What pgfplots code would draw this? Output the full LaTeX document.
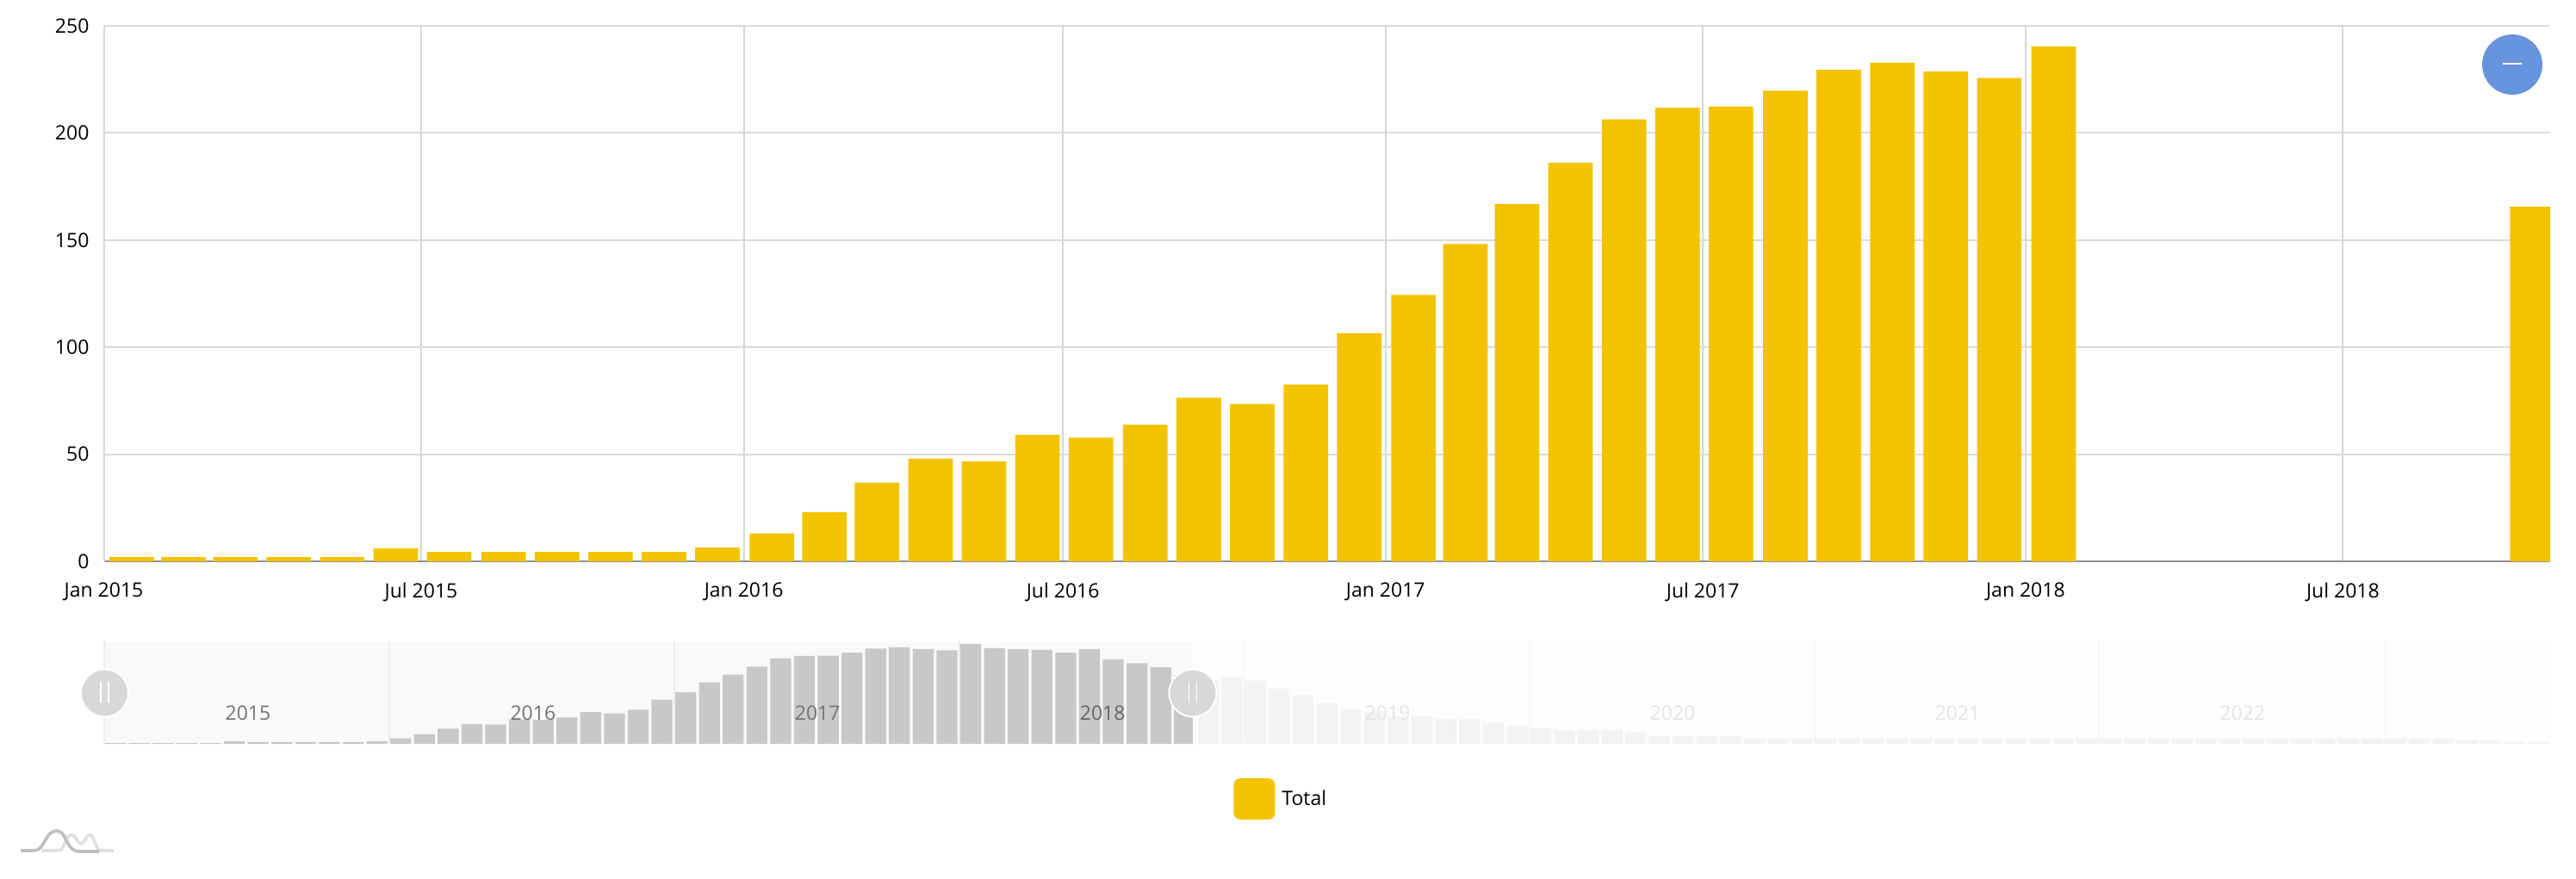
\documentclass[border=0pt]{standalone}
\usepackage{pgfplots}
\usepackage{pgfplotstable}
\pgfplotsset{compat=1.18}
\usepackage{fontspec}
\setmainfont{Open Sans}
\definecolor{baryellow}{HTML}{F3C300}
\definecolor{gridgray}{HTML}{DADADA}
\definecolor{vgridgray}{HTML}{D6D6D6}
\definecolor{navsel}{HTML}{C8C8C8}
\definecolor{navun}{HTML}{F3F3F3}
\definecolor{zoombtn}{HTML}{6794DC}
\definecolor{handle}{HTML}{D8D8D8}
\newcommand{\lab}{\fontsize{11.5}{14}\selectfont}
% main chart: day since 1 Jan 2015 (bar centre), value
\pgfplotstableread{
d v
16 2
45.5 2
75 2
105.5 2
136 2
166.5 6
197 4.4
228 4.4
258.5 4.4
289 4.4
319.5 4.4
350 6.5
381 13
411 23
441 36.7
471.5 48
502 46.7
532.5 59
563 57.7
594 63.8
624.5 76.4
655 73.4
685.5 82.5
716 106.5
747 124.4
776.5 148.2
806 166.8
836.5 186
867 206.3
897.5 211.8
928 212.4
959 219.7
989.5 229.5
1020 232.8
1050.5 228.6
1081 225.6
1112 240.4
1385 165.5
}\maintable
% navigator: month index (bar centre), value
\pgfplotstableread{
m v
0.5 2
1.5 2
2.5 2
3.5 2
4.5 2
5.5 6
6.5 4.4
7.5 4.4
8.5 4.4
9.5 4.4
10.5 4.4
11.5 6.5
12.5 13
13.5 23
14.5 36.7
15.5 48
16.5 46.7
17.5 59
18.5 57.7
19.5 63.8
20.5 76.4
21.5 73.4
22.5 82.5
23.5 106.5
24.5 124.4
25.5 148.2
26.5 166.8
27.5 186
28.5 206.3
29.5 211.8
30.5 212.4
31.5 219.7
32.5 229.5
33.5 232.8
34.5 228.6
35.5 225.6
36.5 240.4
37.5 230.6
38.5 228
39.5 226.5
40.5 220
41.5 228.6
42.5 203.6
43.5 194.6
44.5 185
45.5 165.5
}\navsel
\pgfplotstableread{
m v
46.5 151.7
47.5 161.4
48.5 152.4
49.5 133
50.5 117.7
51.5 98.3
52.5 83
53.5 77.6
54.5 66.5
55.5 66.5
56.5 61.6
57.5 59.6
58.5 49.9
59.5 43.6
60.5 38.8
61.5 33.2
62.5 33.2
63.5 33.2
64.5 27.7
65.5 18.7
66.5 18.7
67.5 18.7
68.5 18.7
69.5 12.5
70.5 12.5
71.5 12.5
72.5 12.5
73.5 12.5
74.5 12.5
75.5 12.5
76.5 12.5
77.5 12.5
78.5 12.5
79.5 12.5
80.5 12.5
81.5 12.5
82.5 12.5
83.5 12.5
84.5 12.5
85.5 12.5
86.5 12.5
87.5 12.5
88.5 12.5
89.5 12.5
90.5 12.5
91.5 12.5
92.5 12.5
93.5 12.5
94.5 12.5
95.5 12.5
96.5 12.5
97.5 12.5
98.5 12.5
99.5 8.3
100.5 8.3
101.5 4.2
102.5 4.2
}\navunsel
\begin{document}
\begin{tikzpicture}
% canvas: 1 px of the reference = 0.5 pt, origin at top left
\path[use as bounding box] (0,0) rectangle (1495.5pt,-510.5pt);
% navigator background and year lines
\begin{scope}[x=0.5pt,y=-0.5pt]
\fill[white] (0,0) rectangle (2991,1021);
\fill[black!2.5] (120.5,746) rectangle (1385,864);
\fill[black!0.8] (1385,746) rectangle (2961,864);
\foreach \px in {120.5,452,783,1113.5}{\draw[line width=1pt,black!7] (\px,744) -- (\px,864);}
\foreach \px in {1444.5,1775.5,2107,2437,2769}{\draw[line width=1pt,black!3] (\px,744) -- (\px,864);}
\end{scope}
% main chart
\begin{axis}[
  at={(60.25pt,-326pt)},anchor=south west,
  scale only axis,width=1420.25pt,height=311pt,
  xmin=0,xmax=1395.2,ymin=0,ymax=250,
  ybar,bar width=25.4,
  axis x line=bottom,axis y line=left,
  x axis line style={-,draw=black!55,opacity=.7,line width=1pt},
  y axis line style={-,draw=gridgray,line width=1pt},
  xtick={0,181,365,547,731,912,1096,1277},
  xticklabels={Jan 2015,Jul 2015,Jan 2016,Jul 2016,Jan 2017,Jul 2017,Jan 2018,Jul 2018},
  ytick={0,50,100,150,200,250},
  major tick length=0pt,
  xmajorgrids,ymajorgrids,
  x grid style={vgridgray,line width=1pt},
  y grid style={gridgray,line width=1pt},
  /pgf/number format/assume math mode=true,
  tick label style={font=\lab,text=black},
  xticklabel style={yshift=-9pt},
  yticklabel style={xshift=-5pt},
  legend style={at={(0.4617,-0.4437)},anchor=west,draw=none,fill=none,inner sep=0pt,font=\lab,
    /tikz/every odd column/.style={column sep=2pt}},
  legend image code/.code={\fill[baryellow,rounded corners=4pt] (0pt,-12pt) rectangle (24pt,12pt);},
]
\addplot[draw=none,fill=baryellow,bar shift=0pt] table[x=d,y=v] {\maintable};
\addlegendentry{Total}
\end{axis}
% navigator
\begin{axis}[
  at={(60.25pt,-432pt)},anchor=south west,
  scale only axis,width=1420.25pt,height=59pt,
  xmin=0,xmax=103,ymin=0,ymax=245,
  ybar,bar width=0.88,
  axis lines=none,
  clip=false,
]
\addplot[draw=none,fill=navsel,bar shift=0pt] table[x=m,y=v] {\navsel};
\addplot[draw=none,fill=navun,bar shift=0pt] table[x=m,y=v] {\navunsel};
\node[font=\lab,text=black!55] at (axis cs:6.07,75) {2015};
\node[font=\lab,text=black!55] at (axis cs:18.07,75) {2016};
\node[font=\lab,text=black!55] at (axis cs:30.05,75) {2017};
\node[font=\lab,text=black!60] at (axis cs:42.05,75) {2018};
\node[font=\lab,text=black!10] at (axis cs:54.05,75) {2019};
\node[font=\lab,text=black!10] at (axis cs:66.05,75) {2020};
\node[font=\lab,text=black!10] at (axis cs:78.05,75) {2021};
\node[font=\lab,text=black!10] at (axis cs:90.05,75) {2022};
\end{axis}
% interface elements
\begin{scope}[x=0.5pt,y=-0.5pt]
% end of the selected range
\fill[black!0.8] (1385,830) rectangle (1391,864);
% zoom-out button
\fill[zoombtn] (2917,75) circle (17.5pt);
\draw[white,line width=1pt] (2906,74) -- (2928,74);
% scrollbar handles
\foreach \cx in {121.5,1385}{
  \filldraw[fill=handle,draw=white,line width=1pt] (\cx,805) circle (13.8pt);
  \draw[white,line width=0.8pt] (\cx-4.5,792) -- (\cx-4.5,816);
  \draw[white,line width=0.8pt] (\cx+4.5,792) -- (\cx+4.5,816);
}
% logo
\draw[line width=1.8pt,black!12] (48,988) -- (68,988) .. controls (76,988) and (74,970) .. (83,970)
  .. controls (89,970) and (89,980) .. (94,980) .. controls (99,980) and (99,970) .. (104,970)
  .. controls (110,970) and (110,988) .. (118,988) -- (132,988);
\draw[line width=1.8pt,black!25] (24,988) -- (40,988) .. controls (52,988) and (52,965) .. (66,965)
  .. controls (78,965) and (76,989) .. (92,989) -- (115,989);
\end{scope}
\end{tikzpicture}
\end{document}
